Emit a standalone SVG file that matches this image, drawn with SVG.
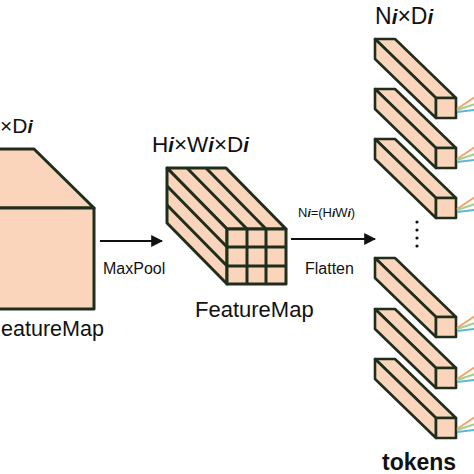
<svg xmlns="http://www.w3.org/2000/svg" width="474" height="474" viewBox="0 0 474 474">
<style>
.f{fill:#fbd5bb;stroke:#1f2e1c;stroke-width:3;stroke-linejoin:round}
.b{fill:#fbd5bb;stroke:#1f2e1c;stroke-width:2.6;stroke-linejoin:round}
.l{fill:none;stroke:#1f2e1c;stroke-width:3}
.t{font-family:"Liberation Sans",Arial,sans-serif;fill:#111}
.i{font-style:italic;font-weight:bold;font-size:0.9em}
.c{fill:none;stroke:#111;stroke-width:2}
.o{stroke:#f4a268;stroke-width:2;fill:none}
.g{stroke:#a6cf8c;stroke-width:2;fill:none}
.u{stroke:#5fb6d3;stroke-width:2;fill:none}
</style>
<defs>
<marker id="ah" viewBox="0 0 10 10" refX="9" refY="5" markerWidth="6" markerHeight="6" orient="auto"><path d="M0,0 L10,5 L0,10 z" fill="#111"/></marker>
<g id="bar">
<polygon class="b" points="0,0 20,0 81,59 61,59"/>
<polygon class="b" points="0,0 61,59 61,79 0,20"/>
<rect class="b" x="61" y="59" width="20" height="20"/>
<line class="o" x1="82" y1="70" x2="100" y2="58"/>
<line class="g" x1="82" y1="71" x2="100" y2="65"/>
<line class="u" x1="82" y1="73" x2="100" y2="71"/>
</g>
</defs>

<g id="input-featuremap">
<polygon class="f" points="-40,149 34,149 94,208 -40,208"/>
<rect class="f" x="-40" y="208" width="134" height="101"/>
<text class="t" x="0" y="133" font-size="21">×D<tspan class="i">i</tspan></text>
<text class="t" x="1" y="336" font-size="22.5" textLength="103" lengthAdjust="spacingAndGlyphs">eatureMap</text>
</g>

<g id="pooled-featuremap">
<polygon class="f" points="167,168 226,168 286,229 227,229"/>
<polygon class="f" points="167,168 227,229 227,284 167,223"/>
<rect class="f" x="227" y="229" width="59" height="55"/>
<path class="l" d="M187,168 L247,229 M206,168 L266,229 M167,186 L227,247 M167,205 L227,266 M247,229 V284 M266,229 V284 M227,247 H286 M227,266 H286"/>
<text class="t" x="152" y="152" font-size="22.5">H<tspan class="i">i</tspan>×W<tspan class="i">i</tspan>×D<tspan class="i">i</tspan></text>
<text class="t" x="195" y="317" font-size="22">FeatureMap</text>
</g>

<g id="connectors">
<line class="c" x1="100" y1="241" x2="162" y2="241" marker-end="url(#ah)"/>
<line class="c" x1="291" y1="239" x2="375" y2="239" marker-end="url(#ah)"/>
<text class="t" x="103" y="274" font-size="16">MaxPool</text>
<text class="t" x="305" y="274" font-size="16">Flatten</text>
<text class="t" x="298" y="217" font-size="13">N<tspan class="i">i</tspan>=(H<tspan class="i">i</tspan>W<tspan class="i">i</tspan>)</text>
</g>

<g id="tokens">
<text class="t" x="375" y="24" font-size="23">N<tspan class="i">i</tspan>×D<tspan class="i">i</tspan></text>
<use href="#bar" x="375" y="39"/>
<use href="#bar" x="375" y="89"/>
<use href="#bar" x="375" y="139"/>
<circle cx="417" cy="222" r="1.6" fill="#111"/>
<circle cx="417" cy="230" r="1.6" fill="#111"/>
<circle cx="417" cy="238" r="1.6" fill="#111"/>
<circle cx="417" cy="246" r="1.6" fill="#111"/>
<use href="#bar" x="375" y="258"/>
<use href="#bar" x="375" y="309"/>
<use href="#bar" x="375" y="359"/>
<text class="t" x="382" y="470" font-size="23" font-weight="bold">tokens</text>
</g>
</svg>
